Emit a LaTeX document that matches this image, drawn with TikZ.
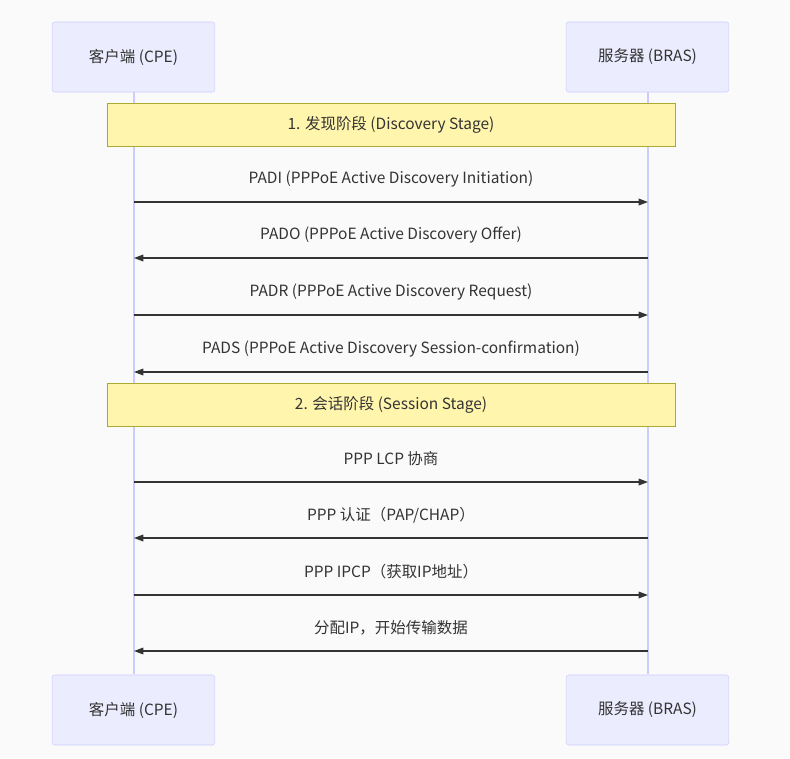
\documentclass[tikz,border=0pt]{standalone}
\usepackage{fontspec}
\setmainfont{Noto Sans CJK SC}
\usetikzlibrary{arrows.meta}
\definecolor{actf}{HTML}{ECECFF}\definecolor{actd}{HTML}{CCCCFF}
\definecolor{notef}{HTML}{FFF5AD}\definecolor{noted}{HTML}{AAAA33}
\definecolor{txt}{HTML}{333333}\definecolor{bg}{HTML}{FAFAFA}
\begin{document}
\begin{tikzpicture}[x=0.75pt,y=-0.75pt,font=\fontsize{11.6}{13}\selectfont,text=txt,
 actor/.style={draw=actd,fill=actf,rounded corners=2pt,minimum width=122pt,minimum height=52.5pt,inner sep=0},
 note/.style={draw=noted,fill=notef,minimum width=426pt,minimum height=32pt,inner sep=0},
 life/.style={draw=actd,line width=1.2pt},
 msg/.style={draw=txt,line width=0.9pt,-{Triangle[length=7pt,width=5pt]}},
 lbl/.style={inner sep=0}]
\fill[bg] (0,0) rectangle (790,758);
\useasboundingbox (0,0) rectangle (790,758);
\coordinate (lt) at (134,91); \coordinate (lb) at (134,674);
\coordinate (rt) at (648,91); \coordinate (rb) at (648,674);
\draw[life] (lt)--(lb); \draw[life] (rt)--(rb);
\node[actor] (a1) at (133.5,57) {客户端 (CPE)};
\node[actor] (b1) at (647.5,57) {服务器 (BRAS)};
\node[actor] (a2) at (133.5,710) {客户端 (CPE)};
\node[actor] (b2) at (647.5,710) {服务器 (BRAS)};
\node[note] (n1) at (391,125) {1. 发现阶段 (Discovery Stage)};
\node[note] (n2) at (391,405) {2. 会话阶段 (Session Stage)};
\foreach \y/\t/\d [count=\i] in {
 202/{PADI (PPPoE Active Discovery Initiation)}/r,
 258/{PADO (PPPoE Active Discovery Offer)}/l,
 315/{PADR (PPPoE Active Discovery Request)}/r,
 372/{PADS (PPPoE Active Discovery Session-confirmation)}/l,
 482/{PPP LCP 协商}/r,
 538/{PPP 认证（PAP/CHAP）}/l,
 595/{PPP IPCP（获取IP地址）}/r,
 651/{分配IP，开始传输数据}/l}{
 \coordinate (L\i) at (134,\y); \coordinate (R\i) at (648,\y);
 \node[lbl] (m\i) at (391,\y-23) {\t};
 \if\d r \draw[msg] (L\i)--(R\i); \else \draw[msg] (R\i)--(L\i); \fi
}
\end{tikzpicture}
\end{document}
